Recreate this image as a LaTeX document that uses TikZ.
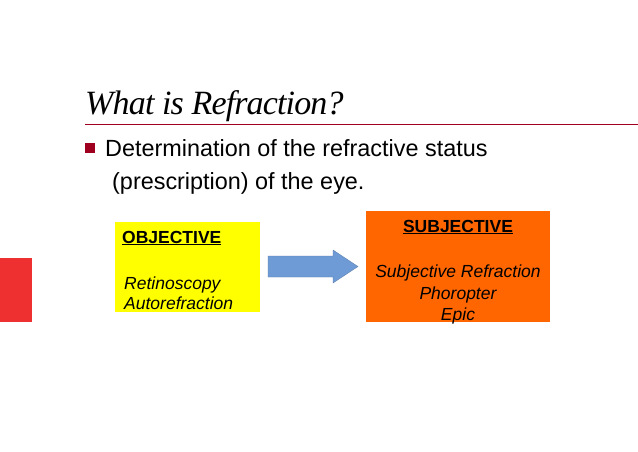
\documentclass[tikz,border=0pt]{standalone}
\usepackage{fontspec}
\setmainfont{Liberation Sans}
\newfontfamily\titlefont{Liberation Serif}
\definecolor{darkred}{HTML}{A00020}
\definecolor{boxyellow}{HTML}{FFFF00}
\definecolor{boxorange}{HTML}{FF6600}
\definecolor{arrowblue}{HTML}{6E9BD5}
\definecolor{sidered}{HTML}{EE3030}
\tikzset{
  boxtext/.style={inner sep=0pt},
  blockarrow/.style={fill=arrowblue, draw=arrowblue!80!black, line width=0.3pt},
}
\newcommand{\bxf}{\fontsize{17.5}{20}\selectfont}
\begin{document}
\begin{tikzpicture}[x=1pt,y=-1pt]
\useasboundingbox (0,0) rectangle (638,451);
\fill[white] (0,0) rectangle (638,451);
\node[anchor=base west, inner sep=0pt, font=\titlefont\itshape\fontsize{34}{38}\selectfont] (title) at (85,114) {\addfontfeature{LetterSpace=-2.5}What is Refraction?};
\draw[darkred, line width=0.8pt] (85,124) -- (638,124);
\fill[darkred] (85,143) rectangle (95,153);
\node[anchor=base west, inner sep=0pt, font=\fontsize{23.4}{26}\selectfont] (b1) at (105,156) {Determination of the refractive status};
\node[anchor=base west, inner sep=0pt, font=\fontsize{23.4}{26}\selectfont] (b2) at (112,189) {(prescription) of the eye.};
\fill[sidered] (0,258) rectangle (32,322);
\fill[boxyellow] (115,222) rectangle (260,312);
\node[boxtext, anchor=base west, font=\bfseries\bxf] (obj) at (122,243) {\underline{OBJECTIVE}};
\node[boxtext, anchor=base west, font=\itshape\bxf] (ret) at (124,289) {Retinoscopy};
\node[boxtext, anchor=base west, font=\itshape\bxf] (auto) at (124,309) {Autorefraction};
\draw[blockarrow] (268,256) -- (333,256) -- (333,250) -- (358,266.5) -- (333,283) -- (333,277) -- (268,277) -- cycle;
\fill[boxorange] (366,211) rectangle (550,322);
\node[boxtext, anchor=base, font=\bfseries\bxf] (subj) at (458,232) {\underline{SUBJECTIVE}};
\node[boxtext, anchor=base, font=\itshape\bxf] (sr) at (458,277) {Subjective Refraction};
\node[boxtext, anchor=base, font=\itshape\bxf] (ph) at (458,299) {Phoropter};
\node[boxtext, anchor=base, font=\itshape\bxf] (ep) at (458,320) {Epic};
\end{tikzpicture}
\end{document}
